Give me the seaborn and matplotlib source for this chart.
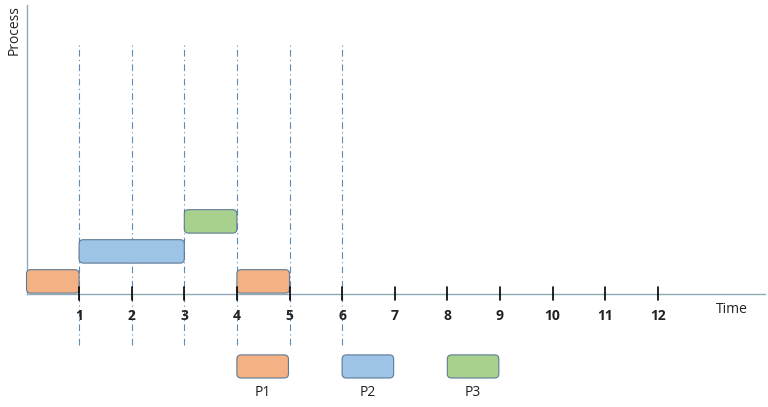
import matplotlib
matplotlib.use("Agg")
import matplotlib.pyplot as plt
import seaborn as sns
from matplotlib.patches import FancyBboxPatch

sns.set_style("white")
plt.rcParams['font.family'] = ['Open Sans', 'DejaVu Sans']

processes = ["P1", "P2", "P3", "P1"]
starts = [0, 1, 3, 4]
ends = [1, 3, 4, 5]
levels = [0, 1, 2, 0]
colors = {"P1": "#F4B183", "P2": "#9DC3E6", "P3": "#A9D18E"}
ticks = list(range(1, 13))
grid_times = [1, 2, 3, 4, 5, 6]
legend_names = ["P1", "P2", "P3"]
legend_x = [4, 6, 8]

fig = plt.figure(figsize=(7.68, 4.07), dpi=100)
W, H = 768, 407
x0, y0 = 26.5, 294
ux, uy = 52.6, 30.0
ax = fig.add_axes([x0 / W, (H - y0) / H, (765 - x0) / W, (y0 - 5) / H])
ax.set_xlim(0, (765 - x0) / ux)
ax.set_ylim(0, (y0 - 5) / uy)
for s in ["top", "right"]:
    ax.spines[s].set_visible(False)
for s in ["left", "bottom"]:
    ax.spines[s].set_color("#8fa9b8")
    ax.spines[s].set_linewidth(1.0)
ax.set_xticks([]); ax.set_yticks([])

asp = ux / uy
def box(x, y, w, h, c):
    p = FancyBboxPatch((x, y), w, h, boxstyle="round,pad=0,rounding_size=0.08",
                       mutation_aspect=asp, facecolor=c, edgecolor="#5f7a96",
                       linewidth=0.8, clip_on=False, zorder=3)
    ax.add_patch(p)

for p, s, e, l in zip(processes, starts, ends, levels):
    box(s, 0.03 + l, e - s, 0.78, colors[p])

for t in grid_times:
    ax.plot([t, t], [-1.7, 8.3], color="#5b8db8", lw=0.8, ls=(0, (6, 3, 1, 3)),
            clip_on=False, zorder=1)

for t in ticks:
    ax.plot([t, t], [-0.2, 0.22], color="black", lw=1.2, clip_on=False, zorder=4)
    ax.text(t, -0.73, str(t), ha="center", va="center", fontsize=10,
            fontweight="bold", color="#222222")

for n, xx in zip(legend_names, legend_x):
    box(xx, -2.8, 0.98, 0.77, colors[n])
    ax.text(xx + 0.49, -3.3, n, ha="center", va="center", fontsize=10, color="#222222")

ax.text(13.41, -0.53, "Time", ha="center", va="center", fontsize=10, color="#222222")
fig.text(14 / W, 1 - 30 / H, "Process", rotation=90, ha="center", va="center",
         fontsize=10, color="#222222")

fig.savefig("out.png", dpi=100)
